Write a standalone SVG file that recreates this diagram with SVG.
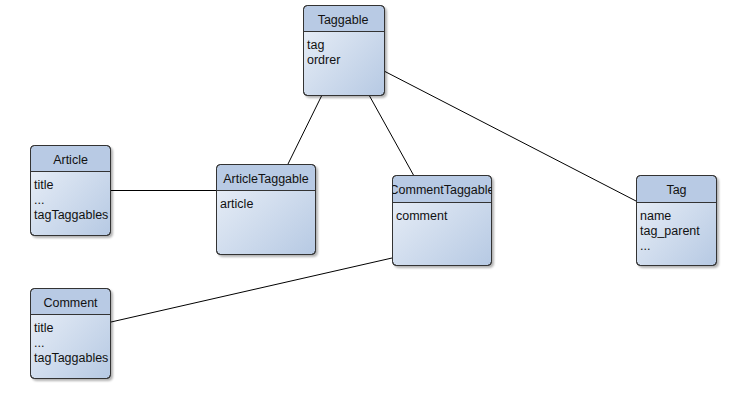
<svg xmlns="http://www.w3.org/2000/svg" width="746" height="402" viewBox="0 0 746 402">
<style>
.box{fill:url(#body);stroke:#333;stroke-width:1;filter:url(#sh)}
.hd{fill:#b8cae4;stroke:none}
.sep{stroke:#333;stroke-width:1}
.t{font-family:"Liberation Sans",Arial,sans-serif;font-size:12.5px;fill:#111}
.c{text-anchor:middle}
.ln{stroke:#000;stroke-width:1;fill:none}
</style>
<defs>
<linearGradient id="body" x1="0" y1="0" x2="1" y2="1">
<stop offset="0" stop-color="#edf2f9"/>
<stop offset="1" stop-color="#b6c9e3"/>
</linearGradient>
<filter id="sh" x="-10%" y="-10%" width="130%" height="130%">
<feDropShadow dx="2" dy="2" stdDeviation="1.2" flood-color="#000" flood-opacity="0.3"/>
</filter>
<clipPath id="cp1"><rect x="392.5" y="175.5" width="99" height="27"/></clipPath>
</defs>
<rect width="746" height="402" fill="#fff"/>
<g id="connectors">
<line class="ln" x1="322" y1="95" x2="288" y2="164"/>
<line class="ln" x1="369" y1="95" x2="414" y2="176"/>
<line class="ln" x1="384" y1="71" x2="636" y2="201"/>
<line class="ln" x1="111" y1="190.5" x2="216" y2="190.5"/>
<line class="ln" x1="111" y1="322" x2="392" y2="258"/>
</g>
<g id="taggable">
<rect class="box" x="303.5" y="5.5" width="81" height="90" rx="4"/>
<path class="hd" d="M304 31.5V10a4 4 0 0 1 4-4h72a4 4 0 0 1 4 4v21.5z"/>
<line class="sep" x1="303.5" y1="31.5" x2="384.5" y2="31.5"/>
<rect x="303.5" y="5.5" width="81" height="90" rx="4" fill="none" stroke="#333"/>
<text class="t c" x="343" y="23.5">Taggable</text>
<text class="t" x="307" y="48.5">tag</text>
<text class="t" x="307" y="63.5">ordrer</text>
</g>
<g id="article">
<rect class="box" x="30.5" y="145.5" width="80" height="90" rx="4"/>
<path class="hd" d="M31 171.5V150a4 4 0 0 1 4-4h71a4 4 0 0 1 4 4v21.5z"/>
<line class="sep" x1="30.5" y1="171.5" x2="110.5" y2="171.5"/>
<rect x="30.5" y="145.5" width="80" height="90" rx="4" fill="none" stroke="#333"/>
<text class="t c" x="70.5" y="163.5">Article</text>
<text class="t" x="34" y="188.5">title</text>
<text class="t" x="34" y="203.5">...</text>
<text class="t" x="34" y="218.5">tagTaggables</text>
</g>
<g id="articletaggable">
<rect class="box" x="216.5" y="164.5" width="99" height="90" rx="4"/>
<path class="hd" d="M217 190.5V169a4 4 0 0 1 4-4h90a4 4 0 0 1 4 4v21.5z"/>
<line class="sep" x1="216.5" y1="190.5" x2="315.5" y2="190.5"/>
<rect x="216.5" y="164.5" width="99" height="90" rx="4" fill="none" stroke="#333"/>
<text class="t c" x="266" y="182.5">ArticleTaggable</text>
<text class="t" x="220" y="207.5">article</text>
</g>
<g id="commenttaggable">
<rect class="box" x="392.5" y="175.5" width="99" height="90" rx="4"/>
<path class="hd" d="M393 202.5V180a4 4 0 0 1 4-4h90a4 4 0 0 1 4 4v22.5z"/>
<line class="sep" x1="392.5" y1="202.5" x2="491.5" y2="202.5"/>
<rect x="392.5" y="175.5" width="99" height="90" rx="4" fill="none" stroke="#333"/>
<text class="t c" x="442" y="193.5" clip-path="url(#cp1)">CommentTaggable</text>
<text class="t" x="396" y="219.5">comment</text>
</g>
<g id="tag">
<rect class="box" x="636.5" y="175.5" width="80" height="90" rx="4"/>
<path class="hd" d="M637 202.5V180a4 4 0 0 1 4-4h71a4 4 0 0 1 4 4v22.5z"/>
<line class="sep" x1="636.5" y1="202.5" x2="716.5" y2="202.5"/>
<rect x="636.5" y="175.5" width="80" height="90" rx="4" fill="none" stroke="#333"/>
<text class="t c" x="676.5" y="193.5">Tag</text>
<text class="t" x="640" y="219.5">name</text>
<text class="t" x="640" y="234.5">tag_parent</text>
<text class="t" x="640" y="249.5">...</text>
</g>
<g id="comment">
<rect class="box" x="30.5" y="288.5" width="80" height="90" rx="4"/>
<path class="hd" d="M31 314.5V293a4 4 0 0 1 4-4h71a4 4 0 0 1 4 4v21.5z"/>
<line class="sep" x1="30.5" y1="314.5" x2="110.5" y2="314.5"/>
<rect x="30.5" y="288.5" width="80" height="90" rx="4" fill="none" stroke="#333"/>
<text class="t c" x="70.5" y="306.5">Comment</text>
<text class="t" x="34" y="331.5">title</text>
<text class="t" x="34" y="346.5">...</text>
<text class="t" x="34" y="361.5">tagTaggables</text>
</g>
</svg>
